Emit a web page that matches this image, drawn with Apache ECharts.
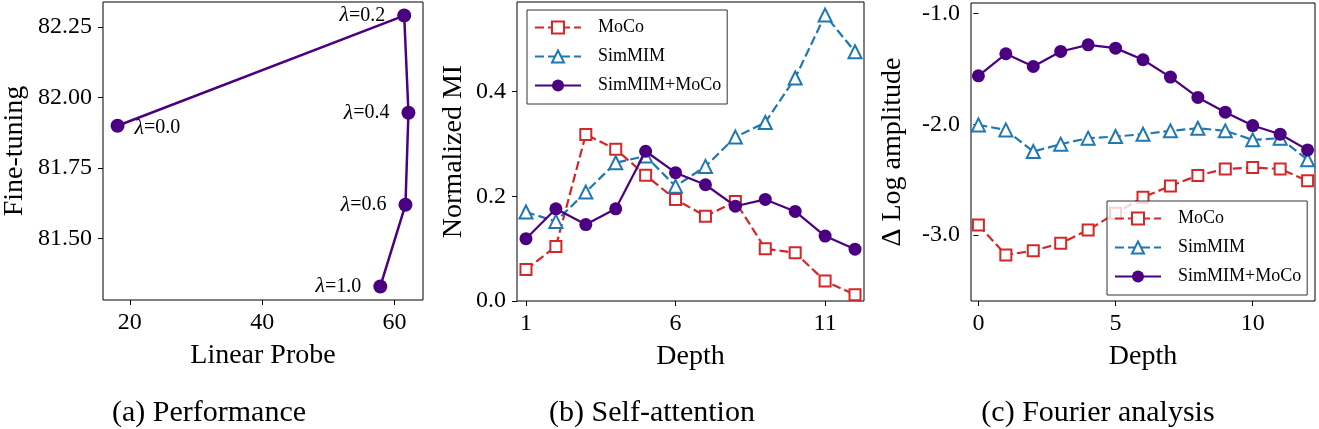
<!DOCTYPE html>
<html>
<head>
<meta charset="utf-8">
<script src="https://cdn.jsdelivr.net/npm/echarts@6/dist/echarts.min.js"></script>
<style>
  html, body { margin: 0; padding: 0; background: #fff; }
  #chart { width: 1319px; height: 429px; }
</style>
</head>
<body>
<div id="chart"></div>
<script>
// (a) performance: linear probe vs fine-tuning for each lambda
var lambdas = ['0.0', '0.2', '0.4', '0.6', '1.0'];
var linearProbe = [18.15, 61.46, 62.1, 61.65, 57.85];
var fineTuning = [81.90, 82.29, 81.946, 81.62, 81.331];

// (b) self-attention: normalized MI per depth
var depthB = [1, 2, 3, 4, 5, 6, 7, 8, 9, 10, 11, 12];
var miMoco = [0.060, 0.104, 0.318, 0.290, 0.240, 0.194, 0.162, 0.190, 0.100, 0.092, 0.038, 0.012];
var miSimmim = [0.170, 0.152, 0.208, 0.264, 0.277, 0.219, 0.257, 0.313, 0.341, 0.426, 0.546, 0.476];
var miBoth = [0.119, 0.176, 0.146, 0.176, 0.286, 0.245, 0.222, 0.181, 0.194, 0.171, 0.124, 0.099];

// (c) fourier analysis: delta log amplitude per depth
var depthC = [0, 1, 2, 3, 4, 5, 6, 7, 8, 9, 10, 11, 12];
var ampMoco = [-2.909, -3.181, -3.142, -3.075, -2.955, -2.804, -2.659, -2.557, -2.463, -2.403, -2.391, -2.403, -2.511];
var ampSimmim = [-2.005, -2.050, -2.246, -2.179, -2.125, -2.110, -2.089, -2.059, -2.035, -2.059, -2.140, -2.125, -2.321];
var ampBoth = [-1.561, -1.362, -1.477, -1.341, -1.281, -1.311, -1.416, -1.573, -1.757, -1.890, -2.011, -2.089, -2.231];

var ticksAX = [20, 40, 60];
var ticksAY = [81.5, 81.75, 82.0, 82.25];
var ticksBX = [1, 6, 11];
var ticksBY = [0.0, 0.2, 0.4];
var ticksCX = [0, 5, 10];
var ticksCY = [-3.0, -2.0, -1.0];

var names = ['MoCo', 'SimMIM', 'SimMIM+MoCo'];
var captions = ['(a) Performance', '(b) Self-attention', '(c) Fourier analysis'];

var FONT = "'Liberation Serif', 'DejaVu Serif', serif";
var RED = '#d62728', BLUE = '#1f77b4', PURPLE = '#4B0082';

function zip(xs, ys) {
  return xs.map(function(x, i) { return [x, ys[i]]; });
}

function xAxis(idx, min, max, ticks, name, fmt) {
  return {
    type: 'value', gridIndex: idx, min: min, max: max,
    name: name, nameLocation: 'middle', nameGap: 42,
    nameTextStyle: {fontFamily: FONT, fontSize: 28, color: '#000'},
    axisLine: {show: false},
    axisTick: {show: true, length: 5, customValues: ticks, lineStyle: {color: '#000'}},
    axisLabel: {customValues: ticks, margin: 11, fontFamily: FONT, fontSize: 24, color: '#000',
      formatter: fmt || function(v) { return String(v); }},
    splitLine: {show: false}
  };
}

function yAxis(idx, min, max, ticks, name, gap, fmt) {
  return {
    type: 'value', gridIndex: idx, min: min, max: max,
    name: name, nameLocation: 'middle', nameGap: gap,
    nameTextStyle: {fontFamily: FONT, fontSize: 28, color: '#000'},
    axisLine: {show: false},
    axisTick: {show: true, length: 5, customValues: ticks, lineStyle: {color: '#000'}},
    axisLabel: {customValues: ticks, margin: 11, fontFamily: FONT, fontSize: 24, color: '#000', formatter: fmt},
    splitLine: {show: false}
  };
}

function lineSeries(name, idx, xs, ys, color, symbol, size, dashed) {
  return {
    name: name, type: 'line', xAxisIndex: idx, yAxisIndex: idx,
    data: zip(xs, ys),
    symbol: symbol, symbolSize: size, showAllSymbol: true,
    lineStyle: {color: color, width: 2.2, type: dashed ? [9, 4] : 'solid'},
    itemStyle: {color: color, borderColor: color, borderWidth: symbol === 'circle' ? 0 : 2},
    emphasis: {disabled: true},
    z: name === 'SimMIM+MoCo' ? 4 : 3
  };
}

function legend(left, top) {
  return {
    data: names, orient: 'vertical', left: left, top: top,
    itemWidth: 46, itemHeight: 15, itemGap: 8,
    padding: [7, 6, 8, 7],
    backgroundColor: 'rgba(255,255,255,0.8)',
    borderColor: '#333', borderWidth: 1,
    textStyle: {fontFamily: FONT, fontSize: 18, color: '#000', lineHeight: 21, padding: [0, 0, 0, 12]},
    selectedMode: false
  };
}

var chart = echarts.init(document.getElementById('chart'));

var lambdaSeries = {
  type: 'line', xAxisIndex: 0, yAxisIndex: 0,
  data: linearProbe.map(function(x, i) {
    var first = i === 0;
    return {
      value: [x, fineTuning[i]],
      label: {
        show: true,
        position: first ? 'right' : 'left',
        distance: first ? 10 : 12,
        offset: first ? [0, 2] : [0, 0],
        formatter: '{l|λ}{n|=' + lambdas[i] + '}',
        rich: {
          l: {fontFamily: FONT, fontSize: 22, fontStyle: 'italic', color: '#000'},
          n: {fontFamily: FONT, fontSize: 20, color: '#000'}
        }
      }
    };
  }),
  symbol: 'circle', symbolSize: 14,
  lineStyle: {color: PURPLE, width: 2.5},
  itemStyle: {color: PURPLE},
  emphasis: {disabled: true}
};

var option = {
  backgroundColor: '#fff',
  animation: false,
  title: captions.map(function(t, i) {
    return {
      text: t, left: [209, 652, 1098][i], top: 398, textAlign: 'center', padding: 0,
      textStyle: {fontFamily: FONT, fontSize: 30, fontWeight: 'normal', color: '#000'}
    };
  }),
  grid: [
    {left: 102, top: 2, width: 321, height: 298},
    {left: 517, top: 2, width: 347, height: 299},
    {left: 971, top: 3, width: 344, height: 298}
  ].map(function(g) {
    return Object.assign(g, {show: true, borderColor: '#000', borderWidth: 1, backgroundColor: 'transparent'});
  }),
  xAxis: [
    xAxis(0, 15.95, 64.3, ticksAX, 'Linear Probe'),
    xAxis(1, 0.7, 12.3, ticksBX, 'Depth'),
    xAxis(2, -0.27, 12.27, ticksCX, 'Depth')
  ],
  yAxis: [
    yAxis(0, 81.283, 82.338, ticksAY, 'Fine-tuning', 74, function(v) { return v.toFixed(2); }),
    yAxis(1, 0, 0.571, ticksBY, 'Normalized MI', 49, function(v) { return v.toFixed(1); }),
    yAxis(2, -3.597, -0.903, ticksCY, 'Δ Log amplitude', 64, function(v) { return v.toFixed(1); })
  ],
  legend: [legend(527, 10), legend(1107, 201)],
  series: [
    lambdaSeries,
    lineSeries('MoCo', 1, depthB, miMoco, RED, 'emptyRect', 11, true),
    lineSeries('SimMIM', 1, depthB, miSimmim, BLUE, 'emptyTriangle', 13, true),
    lineSeries('SimMIM+MoCo', 1, depthB, miBoth, PURPLE, 'circle', 13, false),
    lineSeries('MoCo', 2, depthC, ampMoco, RED, 'emptyRect', 11, true),
    lineSeries('SimMIM', 2, depthC, ampSimmim, BLUE, 'emptyTriangle', 13, true),
    lineSeries('SimMIM+MoCo', 2, depthC, ampBoth, PURPLE, 'circle', 13, false)
  ]
};

chart.setOption(option);
</script>
</body>
</html>
